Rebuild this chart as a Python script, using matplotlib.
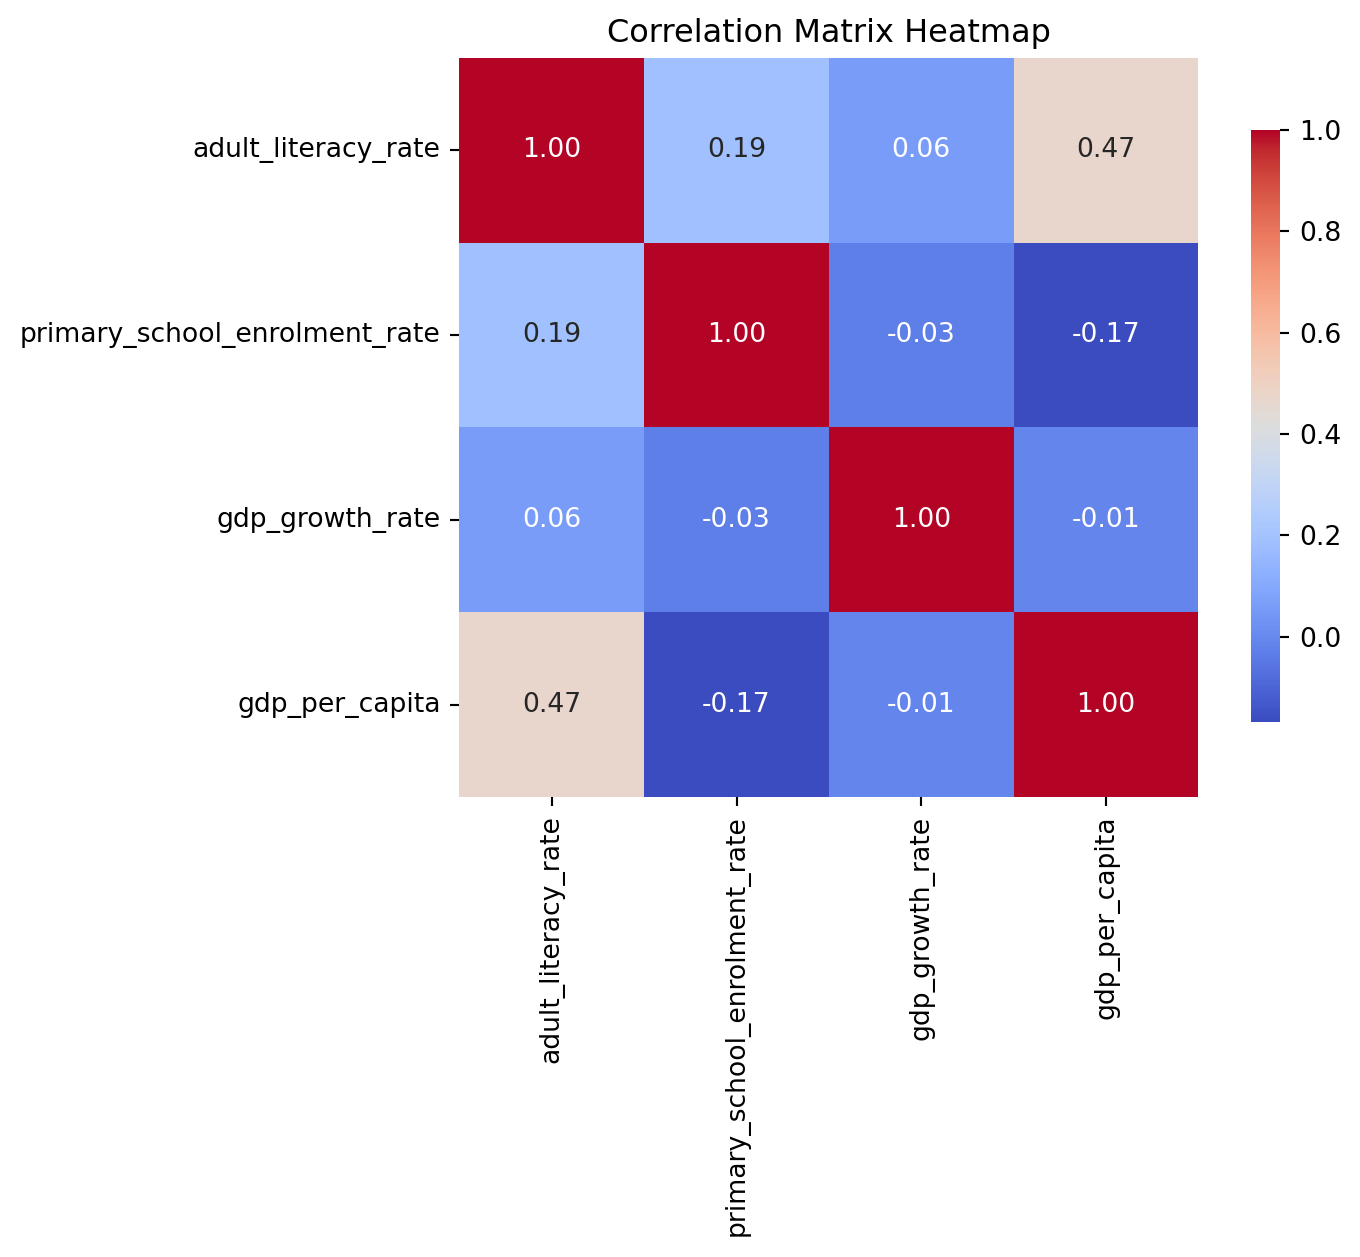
import numpy as np
import pandas as pd
import matplotlib
matplotlib.use("Agg")
import matplotlib.pyplot as plt
import seaborn as sns

# Correlation values
columns = ['adult_literacy_rate', 'primary_school_enrolment_rate',
           'gdp_growth_rate', 'gdp_per_capita']
row_literacy = [1.00, 0.19, 0.06, 0.47]
row_enrolment = [0.19, 1.00, -0.03, -0.168]
row_growth = [0.06, -0.03, 1.00, -0.01]
row_capita = [0.47, -0.168, -0.01, 1.00]

corr = pd.DataFrame([row_literacy, row_enrolment, row_growth, row_capita],
                    index=columns, columns=columns)

dpi = 192
fig = plt.figure(figsize=(1360 / dpi, 1257 / dpi), dpi=dpi)
ax = fig.add_axes([0.3375, 0.366, 0.544, 0.588])
cax = fig.add_axes([0.920, 0.4256, 0.0213, 0.471])

sns.heatmap(corr, annot=True, fmt='.2f', cmap='coolwarm', square=True,
            ax=ax, cbar_ax=cax)
ax.set_title('Correlation Matrix Heatmap', fontsize=12)

fig.savefig('out.png', dpi=dpi)
